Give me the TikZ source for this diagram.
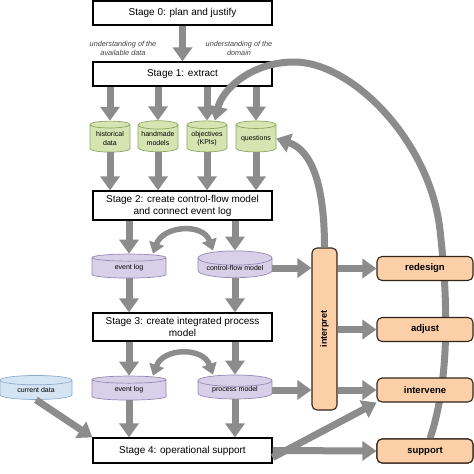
\documentclass[tikz,border=0pt]{standalone}
\usepackage{fontspec}
\setmainfont{Liberation Sans}
\usepackage{graphicx}
\usepackage{xcolor}
\usetikzlibrary{positioning, shapes.geometric, arrows.meta, calc}
\definecolor{flechegris}{RGB}{140, 140, 140}
\definecolor{vertpale}{RGB}{214, 228, 178}
\definecolor{vertbord}{RGB}{138, 166, 96}
\definecolor{mauvepale}{RGB}{216, 208, 232}
\definecolor{mauvebord}{RGB}{150, 136, 182}
\definecolor{bleupale}{RGB}{212, 228, 242}
\definecolor{bleubord}{RGB}{140, 172, 204}
\definecolor{orangepale}{RGB}{251, 208, 168}
\definecolor{brunbord}{RGB}{50, 36, 24}
\tikzset{
  stage/.style={draw=black, line width=1.2pt, fill=white, minimum width=179pt, inner sep=0pt, align=center, font=\fontsize{10}{12}\selectfont},
  tank/.style={cylinder, shape border rotate=90, aspect=0.25, draw, line width=0.7pt, inner sep=0pt, align=center, font=\fontsize{7}{8.5}\selectfont},
  actionbox/.style={draw=brunbord, line width=1.1pt, fill=orangepale, rounded corners=5pt, minimum width=96pt, minimum height=24pt, inner sep=0pt, font=\bfseries\fontsize{9.5}{11}\selectfont},
  fat/.style={draw=flechegris, line width=7pt, -{Triangle[length=14pt, width=19pt]}},
  swap/.style={draw=flechegris, line width=5.5pt, {Triangle[length=11pt, width=15pt]}-{Triangle[length=11pt, width=15pt]}},
  note/.style={align=center, font=\itshape\fontsize{7.3}{9}\selectfont, text=black!75}
}
\begin{document}
\begin{tikzpicture}[x=1pt, y=-1pt]
  \useasboundingbox (0,0) rectangle (474,474);
  % stages
  \node[stage, minimum height=24pt] (s0) at (182.5,13) {Stage 0: plan and justify};
  \node[stage, minimum height=24pt] (s1) at (182.5,74) {Stage 1: extract};
  \node[stage, minimum height=29pt] (s2) at (182.5,205.5) {Stage 2: create control-flow model\\and connect event log};
  \node[stage, minimum height=28pt] (s3) at (182.5,327) {Stage 3: create integrated process\\model};
  \node[stage, minimum height=25pt] (s4) at (182.5,450.5) {Stage 4: operational support};
  \node[note] (ndata) at (123,48) {understanding of the\\available data};
  \node[note] (ndom) at (239,48) {understanding of the\\domain};
  % donnees extraites (vert)
  \node[tank, draw=vertbord, fill=vertpale, minimum width=40pt, minimum height=31pt] (hist) at (110,138.5) {historical\\data};
  \node[tank, draw=vertbord, fill=vertpale, minimum width=40pt, minimum height=31pt] (hand) at (158,138.5) {handmade\\models};
  \node[tank, draw=vertbord, fill=vertpale, minimum width=40pt, minimum height=31pt] (obj) at (207,138.5) {objectives\\(KPIs)};
  \node[tank, draw=vertbord, fill=vertpale, minimum width=40pt, minimum height=31pt] (ques) at (256,138.5) {questions};
  % modeles (mauve)
  \node[tank, draw=mauvebord, fill=mauvepale, minimum width=74pt, minimum height=24pt] (ev1) at (129,268) {event log};
  \node[tank, draw=mauvebord, fill=mauvepale, minimum width=74pt, minimum height=24pt] (cfm) at (235,268) {control-flow model};
  \node[tank, draw=mauvebord, fill=mauvepale, minimum width=74pt, minimum height=24pt] (ev2) at (129,390) {event log};
  \node[tank, draw=mauvebord, fill=mauvepale, minimum width=74pt, minimum height=24pt] (pm) at (235,390) {process model};
  \node[tank, draw=bleubord, fill=bleupale, minimum width=72pt, minimum height=24pt] (cur) at (36,390) {current data};
  % retours
  \node[actionbox] (support) at (425,451) {support};
  \draw[fat] ([xshift=5pt]support.north) .. controls +(20,-59) and (448,300) .. (440,230)
    .. controls (430,140) and (350,60) .. (292,62)
    .. controls (250,63) and (222,90) .. ([xshift=8pt]obj.north);
  \node[draw=brunbord, line width=1.1pt, fill=orangepale, rounded corners=5pt, minimum width=25pt, minimum height=162pt, inner sep=0pt, font=\bfseries\fontsize{9}{11}\selectfont] (interp) at (324.5,329) {\rotatebox{90}{interpret}};
  \draw[fat] (interp.north) .. controls +(0,-75) and +(30,10) .. (ques.east);
  \node[actionbox] (redesign) at (425,268.5) {redesign};
  \node[actionbox] (adjust) at (425,329.5) {adjust};
  \node[actionbox] (intervene) at (425,390) {intervene};
  \node[actionbox] at (support) {support};
  % fleches principales
  \draw[fat] (s0.south) -- (s1.north);
  \foreach \c in {hist, hand, obj, ques} {
    \draw[fat] (s1.south -| \c.north) -- (\c.north);
    \draw[fat] (\c.south) -- (\c.south |- s2.north);
  }
  \draw[fat] (s2.south -| ev1.north) -- (ev1.north);
  \draw[fat] (s2.south -| cfm.north) -- (cfm.north);
  \draw[fat] (ev1.south) -- (ev1.south |- s3.north);
  \draw[fat] (cfm.south) -- (cfm.south |- s3.north);
  \draw[fat] (s3.south -| ev2.north) -- (ev2.north);
  \draw[fat] (s3.south -| pm.north) -- (pm.north);
  \draw[fat] (ev2.south) -- (ev2.south |- s4.north);
  \draw[fat] (pm.south) -- (pm.south |- s4.north);
  \draw[fat] (cur.south) -- (s4.north west);
  \draw[swap] ([xshift=24pt]ev1.north) .. controls +(10,-28) and +(-10,-28) .. ([xshift=-22pt]cfm.north);
  \draw[swap] ([xshift=24pt]ev2.north) .. controls +(10,-28) and +(-10,-28) .. ([xshift=-22pt]pm.north);
  \draw[fat] (cfm.east) -- (cfm.east -| interp.west);
  \draw[fat] (pm.east) -- (pm.east -| interp.west);
  \draw[fat] (redesign.west -| interp.east) -- (redesign.west);
  \draw[fat] (adjust.west -| interp.east) -- (adjust.west);
  \draw[fat] (intervene.west -| interp.east) -- (intervene.west);
  \draw[fat] ([yshift=-7pt]s4.east) -- (intervene.south west);
  \draw[fat] (s4.east) -- (support.west);
\end{tikzpicture}
\end{document}
